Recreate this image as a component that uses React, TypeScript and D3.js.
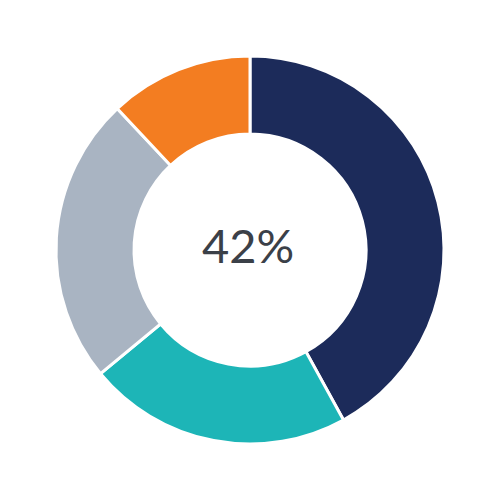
import React from "react";
import * as d3 from "d3";

const categories = ["A", "B", "C", "D"];
const values = [42, 22, 24, 12];
const colors = ["#1c2b5a", "#1db5b7", "#a9b4c2", "#f37d21"];
const centerLabel = "42%";

export default function App() {
  const width = 500;
  const height = 500;
  const cx = 250;
  const cy = 250;
  const outerR = 194;
  const innerR = 116;
  const pie = d3.pie<number>().sort(null).value((d) => d);
  const arcs = pie(values);
  const arc = d3.arc<d3.PieArcDatum<number>>().innerRadius(innerR).outerRadius(outerR);
  return (
    <svg
      width={width}
      height={height}
      style={{ position: "absolute", left: 0, top: 0, background: "#fff" }}
    >
      <g transform={`translate(${cx},${cy})`}>
        {arcs.map((a, i) => (
          <path
            key={categories[i]}
            d={arc(a) || ""}
            fill={colors[i]}
            stroke="#fff"
            strokeWidth={3}
          />
        ))}
        <text
          x={-2}
          y={13}
          textAnchor="middle"
          fontFamily="Lato, 'Open Sans', sans-serif"
          fontSize={47}
          fill="#3b4048"
        >
          {centerLabel}
        </text>
      </g>
    </svg>
  );
}
